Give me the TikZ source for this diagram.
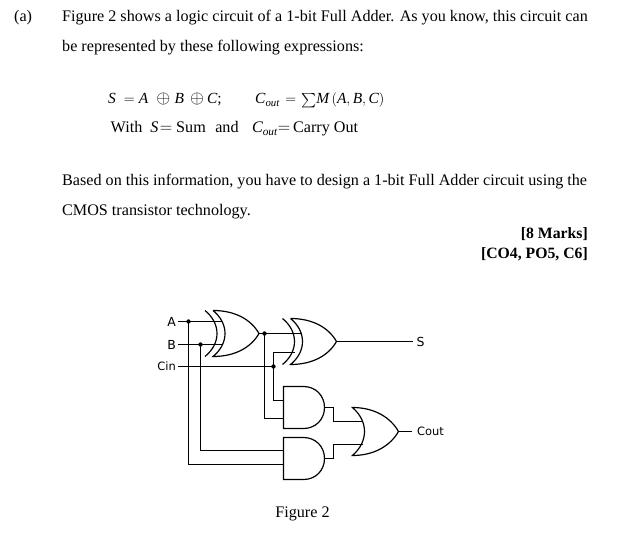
\documentclass[tikz,border=0pt]{standalone}
\usepackage{amsmath}
\usepackage{fontspec}
\setmainfont{Liberation Serif}
\newfontfamily\lblfont{DejaVu Sans}
\newcommand{\mv}[1]{\textit{#1}}
\newcommand{\bop}{\scalebox{1.25}{$\oplus$}}
\usetikzlibrary{calc}
\tikzset{
  txt/.style={anchor=base west, inner sep=0pt, font=\fontsize{16.2}{19}\selectfont},
  eqn/.style={anchor=base west, inner sep=0pt, font=\fontsize{15.5}{18}\selectfont},
  txtr/.style={anchor=base east, inner sep=0pt, font=\fontsize{15.8}{19}\selectfont\bfseries},
  lbl/.style={inner sep=2pt, font=\lblfont\fontsize{12.5}{15}\selectfont},
  wire/.style={black, line width=1.2pt},
  xorgate/.pic={
    \draw[wire] (0,-23) .. controls (16,-10) and (16,10) .. (0,23);
    \draw[wire] (8,-23) .. controls (24,-10) and (24,10) .. (8,23)
      .. controls (30,23) and (46,14) .. (54,0)
      .. controls (46,-14) and (30,-23) .. (8,-23);
  },
  andgate/.pic={
    \draw[wire] (0,-21) -- (20,-21) .. controls (32,-21) and (41,-12) .. (41,0)
      .. controls (41,12) and (32,21) .. (20,21) -- (0,21) -- cycle;
  },
  orgate/.pic={
    \draw[wire] (0,-24) .. controls (16,-10) and (16,10) .. (0,24)
      .. controls (22,24) and (38,14) .. (46,0)
      .. controls (38,-14) and (22,-24) .. (0,-24) -- cycle;
  }
}

\begin{document}
\begin{tikzpicture}[x=1bp, y=-1bp]
  \useasboundingbox (0,0) rectangle (621,533);

  % question text
  \node[txt] (partA) at (14,22) {(a)};
  \node[txt] (line1) at (62,22) {Figure 2 shows a logic circuit of a 1-bit Full Adder. As you know, this circuit can};
  \node[txt] (line2) at (62,52) {be represented by these following expressions:};
  \node[eqn] (eqS) at (108,104) {\mv{S}\hspace{8pt}$=$\hspace{4pt}\mv{A}\hspace{8pt}\bop\hspace{4.5pt}\mv{B}\hspace{6pt}\bop\hspace{3pt}\mv{C};};
  \node[eqn] (eqC) at (255,104) {$\mv{C}_{\mv{out}}\hspace{1.5pt} = \hspace{1pt}\sum\! \mv{M}\,(\mv{A},\mv{B},\mv{C})$};
  \node[txt] (with) at (110.5,133) {With\hspace{8pt}$\mv{S}$\hspace{1.5pt}$=$\hspace{4pt}Sum\hspace{9.5pt}and\hspace{13.5pt}$\mv{C}_{\mv{out}}$$=$\hspace{3pt}Carry Out};
  \node[txt] (line3) at (62,186) {Based on this information, you have to design a 1-bit Full Adder circuit using the};
  \node[txt] (line4) at (62,216) {CMOS transistor technology.};
  \node[txtr] (marks) at (588,239) {[8 Marks]};
  \node[txtr] (cos) at (588,258) {[CO4, PO5, C6]};
  \node[txt, anchor=base] (figcap) at (302.5,517) {Figure 2};

  % gates
  \pic at (205,333.5) {xorgate};
  \pic at (282.5,341.5) {xorgate};
  \pic at (283.5,407.5) {andgate};
  \pic at (283.5,458.5) {andgate};
  \pic at (352.5,431.5) {orgate};

  % signal names
  \node[lbl, anchor=east] (A) at (178,321.5) {A};
  \node[lbl, anchor=east] (B) at (178,344.5) {B};
  \node[lbl, anchor=east, font=\lblfont\fontsize{11.5}{14}\selectfont] (Cin) at (178,366.5) {Cin};
  \node[lbl, anchor=west, inner xsep=3.5pt] (S) at (413,341.5) {S};
  \node[lbl, anchor=west, inner xsep=5pt, font=\lblfont\fontsize{11.5}{14}\selectfont] (Cout) at (412,431.5) {Cout};

  \coordinate (dA) at (188.5,321.5);
  \coordinate (dB) at (200.5,344.5);
  \coordinate (dC) at (273.5,366.5);
  \coordinate (dX) at (264.5,333.5);

  \draw[wire] (A) -- (dA) -- (222,321.5);
  \draw[wire] (B) -- (dB) -- (222,344.5);
  \draw[wire] (Cin) -- (dC);
  \draw[wire] (259,333.5) -- (dX) -- (302,333.5);
  \draw[wire] (dC) -- (273.5,352.5) -- (295,352.5);
  \draw[wire] (336.5,341.5) -- (S);
  \draw[wire] (dC) -- (273.5,400.5) -- (283.5,400.5);
  \draw[wire] (dX) -- (264.5,418.5) -- (283.5,418.5);
  \draw[wire] (dB) -- (200.5,450.5) -- (283.5,450.5);
  \draw[wire] (dA) -- (188.5,464.5) -- (283.5,464.5);
  \draw[wire] (324.5,407.5) -- (333.5,407.5) -- (333.5,421.5) -- (363,421.5);
  \draw[wire] (324.5,458.5) -- (333.5,458.5) -- (333.5,444.5) -- (363,444.5);
  \draw[wire] (398.5,431.5) -- (Cout);

  \fill (dA) circle (2.2pt);
  \fill (dB) circle (2.2pt);
  \fill (dC) circle (2.2pt);
  \fill (dX) circle (2.2pt);
\end{tikzpicture}
\end{document}
